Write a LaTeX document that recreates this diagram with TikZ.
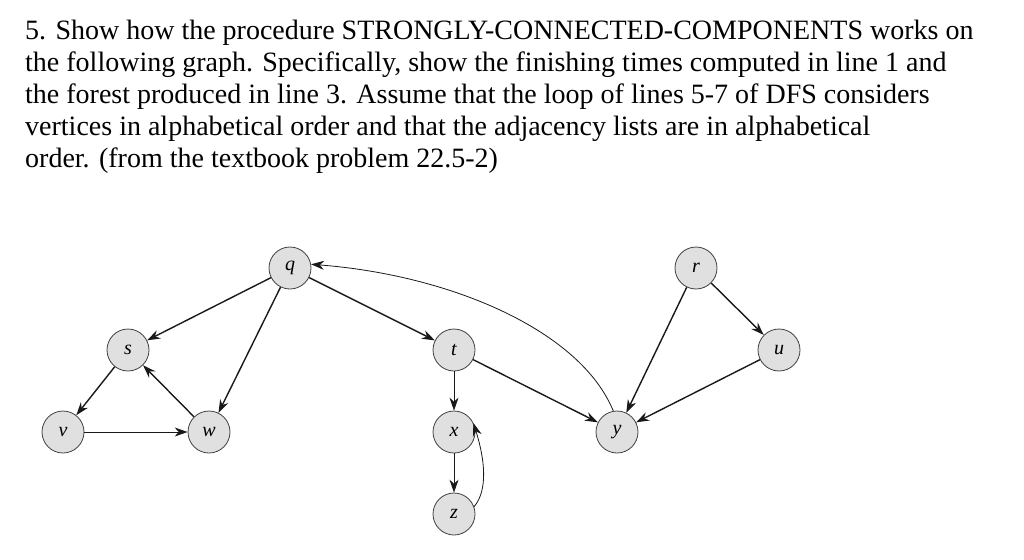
\documentclass[tikz,border=0pt]{standalone}
\usepackage{fontspec}
\setmainfont{Liberation Serif}
\usetikzlibrary{arrows.meta}
\begin{document}
\begin{tikzpicture}[x=1pt,y=-1pt,
  vert/.style={circle,draw=black!75,fill=black!12,line width=0.8pt,minimum size=42pt,inner sep=0pt,font=\fontsize{20}{20}\selectfont\itshape},
  e/.style={-{Stealth[length=13pt,width=9pt]},line width=1.4pt,black!90},
  thin/.style={-{Stealth[length=13pt,width=9pt]},line width=0.8pt,black!90}]
\useasboundingbox (0,0) rectangle (1024,559);
\node[anchor=north west,align=left,font=\fontsize{28}{32}\selectfont,inner sep=0pt] (txt) at (25,20)
{5. Show how the procedure STRONGLY-CONNECTED-COMPONENTS works on\\
the following graph. Specifically, show the finishing times computed in line 1 and\\
the forest produced in line 3. Assume that the loop of lines 5-7 of DFS considers\\
vertices in alphabetical order and that the adjacency lists are in alphabetical\\
order. (from the textbook problem 22.5-2)};
\node[vert] (q) at (290,268) {q};
\node[vert] (s) at (128,350) {s};
\node[vert] (v) at (63,432) {v};
\node[vert] (w) at (209,432) {w};
\node[vert] (t) at (454,350) {t};
\node[vert] (x) at (454,432) {x};
\node[vert] (z) at (454,514) {z};
\node[vert] (y) at (617,432) {y};
\node[vert] (r) at (696,268) {r};
\node[vert] (u) at (779,350) {u};
\draw[e] (q) -- (s);
\draw[e] (q) -- (w);
\draw[e] (q) -- (t);
\draw[e] (s) -- (v);
\draw[e] (w) -- (s);
\draw[thin] (v) -- (w);
\draw[thin] (t) -- (x);
\draw[thin] (x) -- (z);
\draw[e] (t) -- (y);
\draw[e] (r) -- (y);
\draw[e] (r) -- (u);
\draw[e] (u) -- (y);
\draw[thin] (y.100) .. controls (580,330) and (450,275) .. (q.10);
\draw[thin] (z.20) .. controls (488,490) and (485,460) .. (x.25);
\end{tikzpicture}
\end{document}
